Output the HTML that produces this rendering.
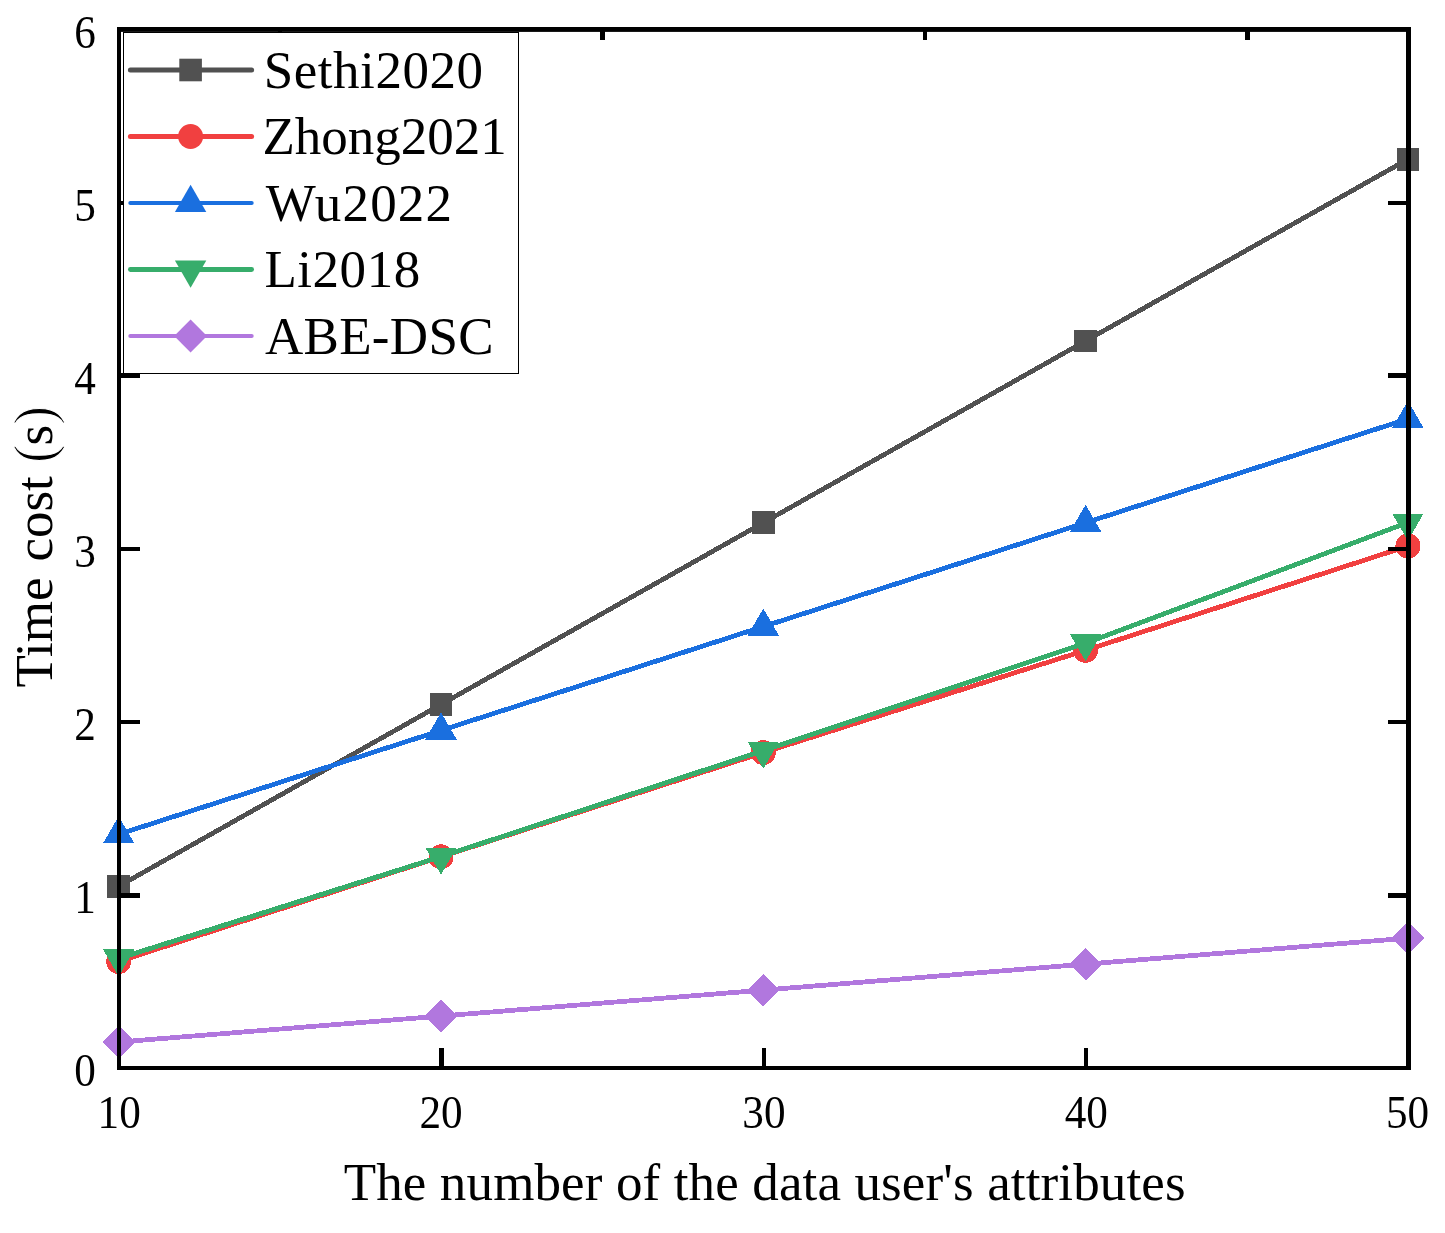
<!DOCTYPE html>
<html lang="en"><head><meta charset="utf-8"><title>Time cost vs number of attributes</title>
<style>html,body{margin:0;padding:0;background:#fff}svg{display:block}text{font-family:"Liberation Serif","Times New Roman",serif;fill:#000}</style></head><body>
<svg width="1445" height="1233" viewBox="0 0 1445 1233">
<rect width="1445" height="1233" fill="#fff"/>
<g id="data" shape-rendering="crispEdges">
<polyline points="118.70,886.25 441.00,704.49 763.30,522.74 1085.60,340.98 1407.90,159.23" fill="none" stroke="#515151" stroke-width="4.8" stroke-linejoin="round"/>
<rect x="107.40" y="874.95" width="22.6" height="22.6" fill="#515151"/>
<rect x="429.70" y="693.19" width="22.6" height="22.6" fill="#515151"/>
<rect x="752.00" y="511.44" width="22.6" height="22.6" fill="#515151"/>
<rect x="1074.30" y="329.68" width="22.6" height="22.6" fill="#515151"/>
<rect x="1396.60" y="147.93" width="22.6" height="22.6" fill="#515151"/>
<polyline points="118.70,961.54 441.00,856.82 763.30,752.61 1085.60,650.31 1407.90,546.10" fill="none" stroke="#F14040" stroke-width="4.8" stroke-linejoin="round"/>
<circle cx="118.70" cy="961.54" r="12.5" fill="#F14040"/>
<circle cx="441.00" cy="856.82" r="12.5" fill="#F14040"/>
<circle cx="763.30" cy="752.61" r="12.5" fill="#F14040"/>
<circle cx="1085.60" cy="650.31" r="12.5" fill="#F14040"/>
<circle cx="1407.90" cy="546.10" r="12.5" fill="#F14040"/>
<polyline points="118.70,834.32 441.00,730.46 763.30,626.60 1085.60,522.74 1407.90,418.88" fill="none" stroke="#1A6FDF" stroke-width="4.8" stroke-linejoin="round"/>
<polygon points="118.70,816.19 134.40,843.38 103.00,843.38" fill="#1A6FDF"/>
<polygon points="441.00,712.33 456.70,739.52 425.30,739.52" fill="#1A6FDF"/>
<polygon points="763.30,608.47 779.00,635.66 747.60,635.66" fill="#1A6FDF"/>
<polygon points="1085.60,504.61 1101.30,531.80 1069.90,531.80" fill="#1A6FDF"/>
<polygon points="1407.90,400.75 1423.60,427.94 1392.20,427.94" fill="#1A6FDF"/>
<polyline points="118.70,958.43 441.00,856.64 763.30,750.71 1085.60,643.21 1407.90,522.56" fill="none" stroke="#37AD6B" stroke-width="4.8" stroke-linejoin="round"/>
<polygon points="118.70,976.56 134.40,949.36 103.00,949.36" fill="#37AD6B"/>
<polygon points="441.00,874.77 456.70,847.58 425.30,847.58" fill="#37AD6B"/>
<polygon points="763.30,768.84 779.00,741.64 747.60,741.64" fill="#37AD6B"/>
<polygon points="1085.60,661.34 1101.30,634.15 1069.90,634.15" fill="#37AD6B"/>
<polygon points="1407.90,540.69 1423.60,513.50 1392.20,513.50" fill="#37AD6B"/>
<polyline points="118.70,1042.04 441.00,1016.07 763.30,990.11 1085.60,964.14 1407.90,938.17" fill="none" stroke="#B177DE" stroke-width="4.8" stroke-linejoin="round"/>
<polygon points="118.70,1025.63 135.10,1042.04 118.70,1058.44 102.30,1042.04" fill="#B177DE"/>
<polygon points="441.00,999.67 457.40,1016.07 441.00,1032.47 424.60,1016.07" fill="#B177DE"/>
<polygon points="763.30,973.71 779.70,990.11 763.30,1006.50 746.90,990.11" fill="#B177DE"/>
<polygon points="1085.60,947.74 1102.00,964.14 1085.60,980.54 1069.20,964.14" fill="#B177DE"/>
<polygon points="1407.90,921.77 1424.30,938.17 1407.90,954.57 1391.50,938.17" fill="#B177DE"/>
</g>
<g id="axes" fill="#000">
<rect x="117" y="27" width="4" height="1043"/>
<rect x="1406" y="27" width="5" height="1043"/>
<rect x="117" y="27" width="1294" height="4.9"/>
<rect x="117" y="1066" width="1294" height="4"/>
<rect x="120" y="893" width="20" height="5"/>
<rect x="1388" y="893" width="19" height="5"/>
<rect x="120" y="720" width="20" height="4"/>
<rect x="1388" y="720" width="19" height="4"/>
<rect x="120" y="547" width="20" height="4"/>
<rect x="1388" y="547" width="19" height="4"/>
<rect x="120" y="373" width="20" height="5"/>
<rect x="1388" y="373" width="19" height="5"/>
<rect x="120" y="201" width="20" height="4"/>
<rect x="1388" y="201" width="19" height="4"/>
<rect x="439" y="1048" width="5" height="19"/>
<rect x="762" y="1048" width="4" height="19"/>
<rect x="1084" y="1048" width="4" height="19"/>
<rect x="278" y="31" width="4" height="9"/>
<rect x="600" y="31" width="5" height="9"/>
<rect x="923" y="31" width="4" height="9"/>
<rect x="1245" y="31" width="5" height="9"/>
</g>
<g id="ticklabels" font-size="46.5" text-anchor="middle">
<text x="85" y="1086.3" textLength="21.6" lengthAdjust="spacingAndGlyphs">0</text>
<text x="85" y="913.2" textLength="21.6" lengthAdjust="spacingAndGlyphs">1</text>
<text x="85" y="740.1" textLength="21.6" lengthAdjust="spacingAndGlyphs">2</text>
<text x="85" y="567.0" textLength="21.6" lengthAdjust="spacingAndGlyphs">3</text>
<text x="85" y="393.9" textLength="21.6" lengthAdjust="spacingAndGlyphs">4</text>
<text x="85" y="220.8" textLength="21.6" lengthAdjust="spacingAndGlyphs">5</text>
<text x="85" y="47.7" textLength="21.6" lengthAdjust="spacingAndGlyphs">6</text>
<text x="119.2" y="1128" textLength="43.2" lengthAdjust="spacingAndGlyphs">10</text>
<text x="441.0" y="1128" textLength="43.2" lengthAdjust="spacingAndGlyphs">20</text>
<text x="763.9" y="1128" textLength="43.2" lengthAdjust="spacingAndGlyphs">30</text>
<text x="1086.3" y="1128" textLength="43.2" lengthAdjust="spacingAndGlyphs">40</text>
<text x="1407.6" y="1128" textLength="43.2" lengthAdjust="spacingAndGlyphs">50</text>
</g>
<text x="343.7" y="1199.5" font-size="53" id="xtitle" textLength="841.9" lengthAdjust="spacing">The number of the data user's attributes</text>
<g transform="translate(52.3,687.5) rotate(-90)" font-size="53" id="ytitle"><text x="0" y="0">Time<tspan dx="2.7"> cost </tspan><tspan font-size="56" dy="0.7" stroke="#fff" stroke-width="1.1">(</tspan><tspan dy="-0.7" dx="-1.2">s</tspan><tspan font-size="56" dy="0.7" stroke="#fff" stroke-width="1.1">)</tspan></text></g>
<g id="legend">
<rect x="123.5" y="32.5" width="395" height="341" fill="#fff" stroke="#000" stroke-width="1"/>
<line x1="130.4" y1="70" x2="251.6" y2="70" stroke="#515151" stroke-width="5" stroke-linecap="round"/>
<rect x="179.30" y="58.70" width="22.6" height="22.6" fill="#515151"/>
<text x="263.7" y="87.5" font-size="53" textLength="219.3" lengthAdjust="spacing">Sethi2020</text>
<line x1="130.4" y1="136.5" x2="251.6" y2="136.5" stroke="#F14040" stroke-width="5" stroke-linecap="round"/>
<circle cx="190.60" cy="136.50" r="12.5" fill="#F14040"/>
<text x="262.4" y="154.0" font-size="53" textLength="244.4" lengthAdjust="spacing">Zhong2021</text>
<line x1="130.4" y1="203" x2="251.6" y2="203" stroke="#1A6FDF" stroke-width="4.2" stroke-linecap="round"/>
<polygon points="190.60,184.87 206.30,212.06 174.90,212.06" fill="#1A6FDF"/>
<text x="265.8" y="220.5" font-size="53" textLength="186.2" lengthAdjust="spacing">Wu2022</text>
<line x1="130.4" y1="269.5" x2="251.6" y2="269.5" stroke="#37AD6B" stroke-width="4.8" stroke-linecap="round"/>
<polygon points="190.60,287.63 206.30,260.44 174.90,260.44" fill="#37AD6B"/>
<text x="264.4" y="287.0" font-size="53" textLength="155.8" lengthAdjust="spacing">Li2018</text>
<line x1="130.4" y1="336" x2="251.6" y2="336" stroke="#B177DE" stroke-width="4.2" stroke-linecap="round"/>
<polygon points="190.60,319.60 207.00,336.00 190.60,352.40 174.20,336.00" fill="#B177DE"/>
<text x="264.9" y="353.5" font-size="53" textLength="228.7" lengthAdjust="spacing">ABE-DSC</text>
</g>
</svg></body></html>
